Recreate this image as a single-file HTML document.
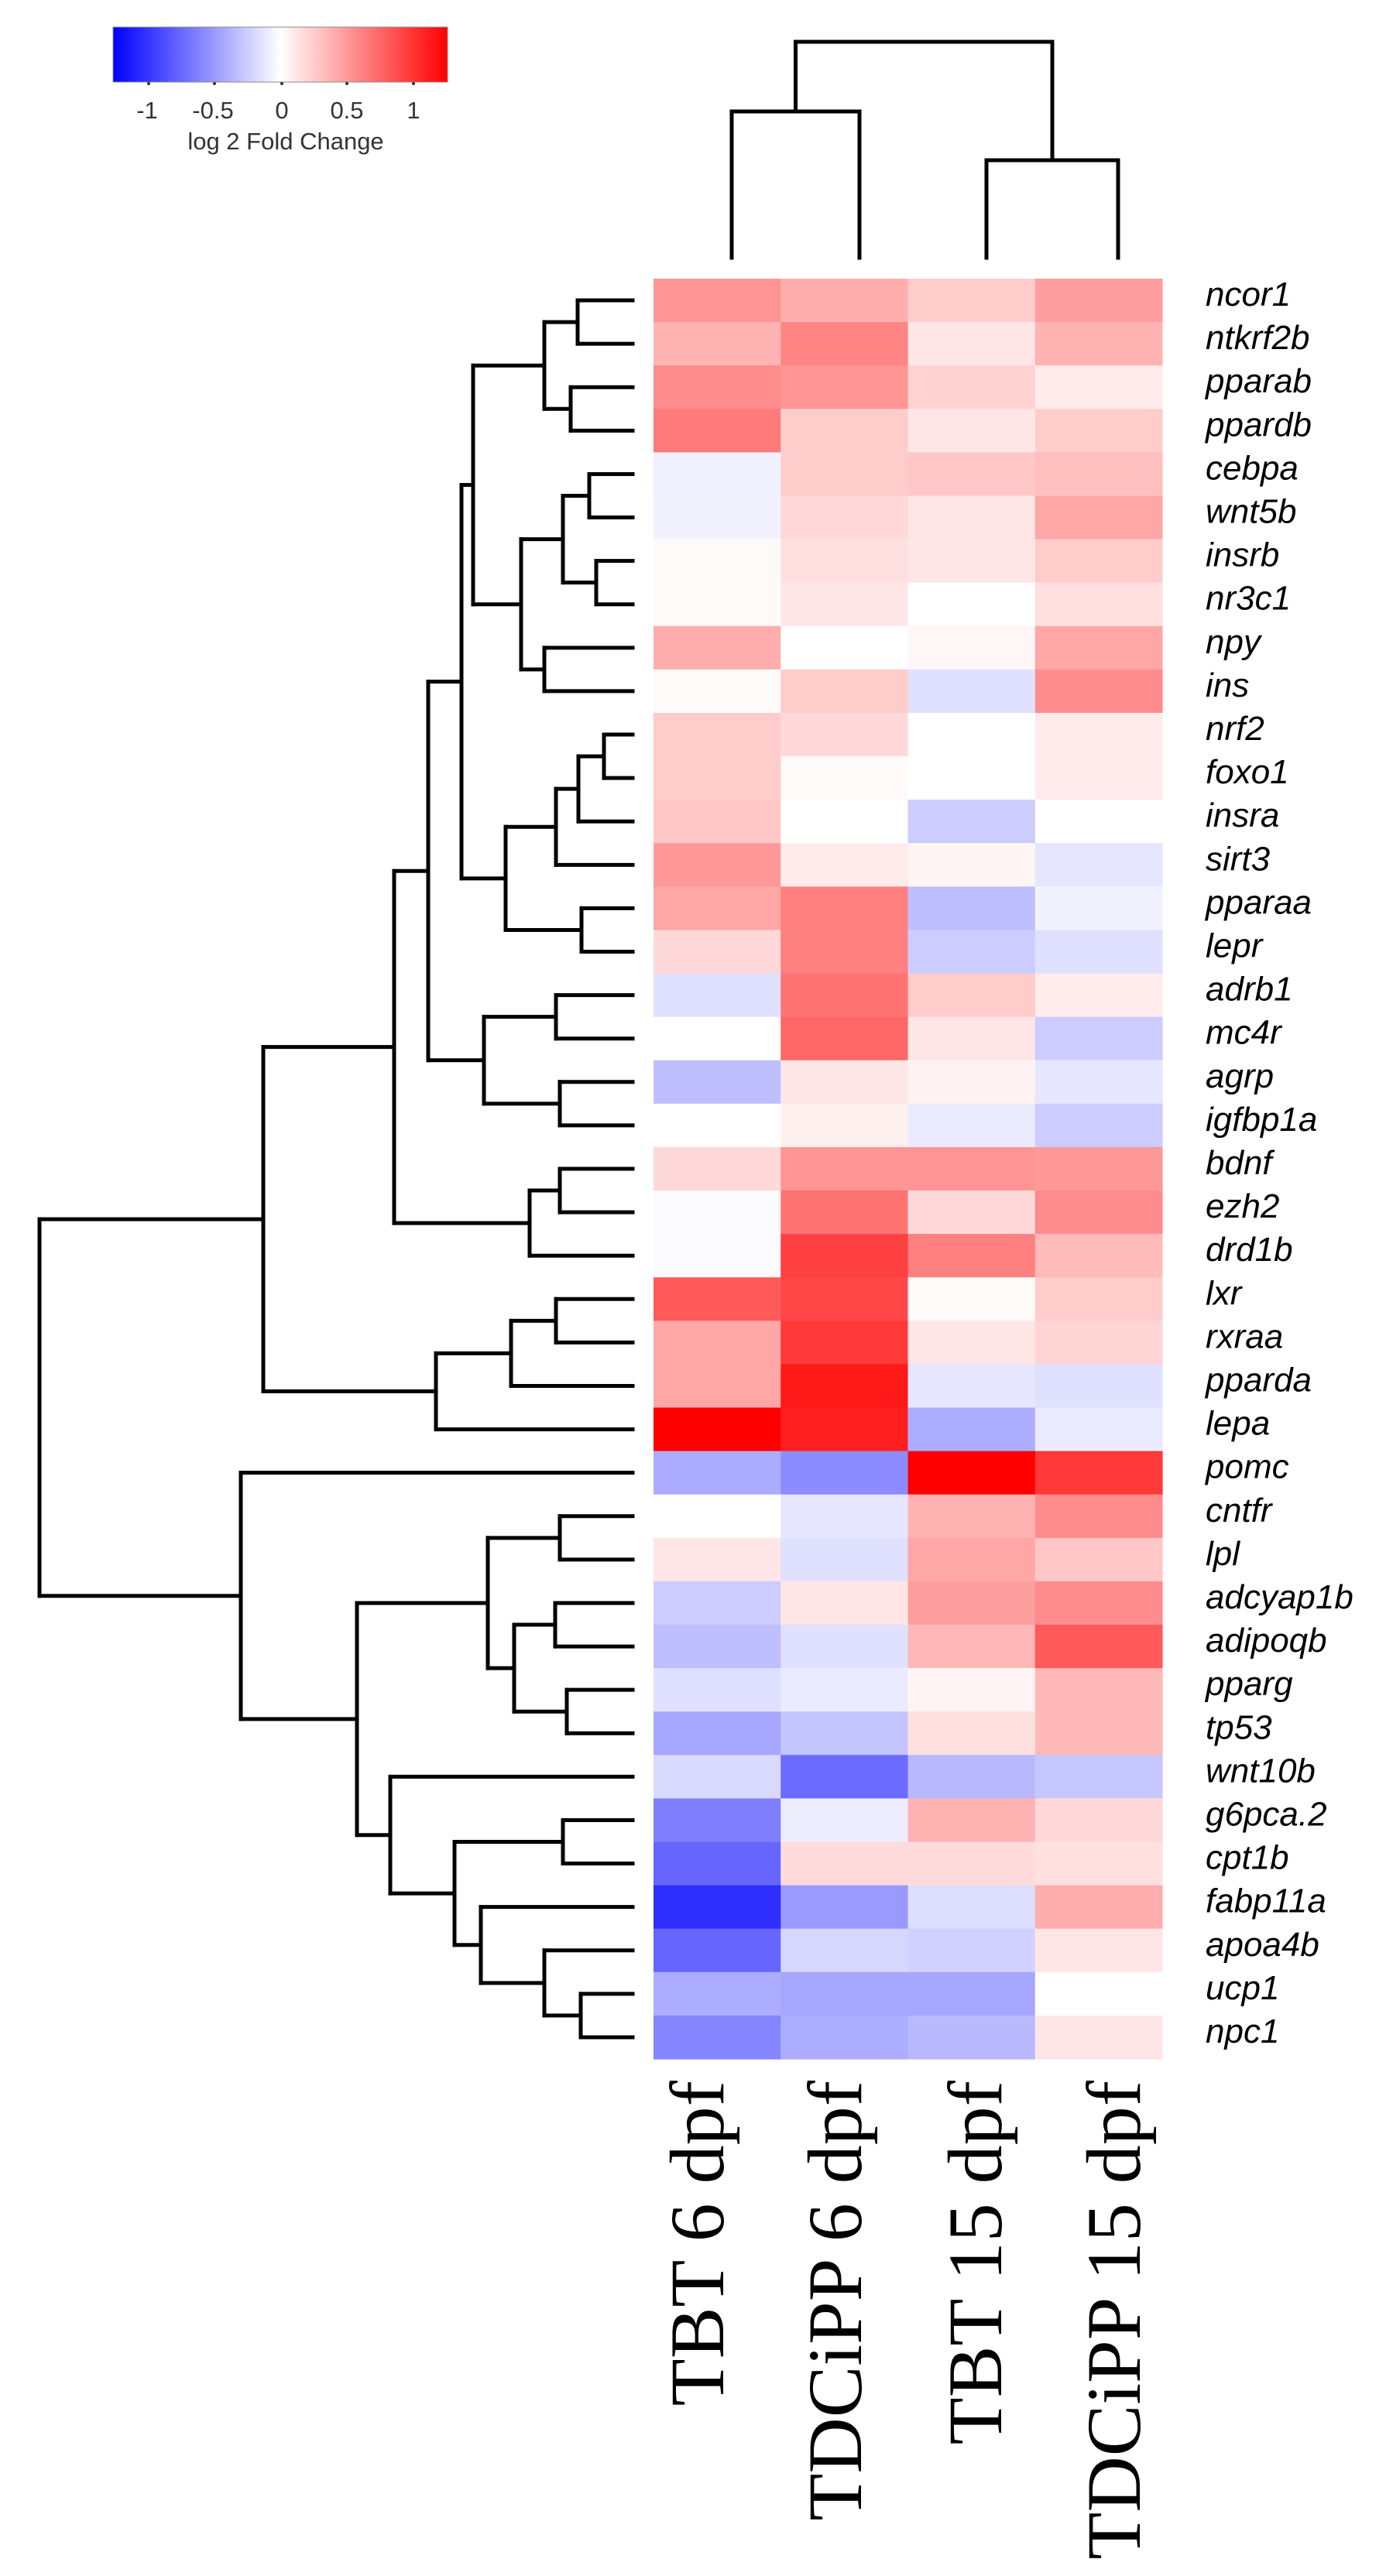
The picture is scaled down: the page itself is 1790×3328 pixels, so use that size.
<!DOCTYPE html>
<html><head><meta charset="utf-8"><style>
html,body{margin:0;padding:0;background:#fff;}
svg{display:block;}
</style></head><body>
<svg xmlns="http://www.w3.org/2000/svg" width="1790" height="3328" viewBox="0 0 1790 3328">
<defs>
<linearGradient id="cb" x1="0" x2="1" y1="0" y2="0">
<stop offset="0" stop-color="#0000ff"/>
<stop offset="0.5" stop-color="#ffffff"/>
<stop offset="1" stop-color="#ff0000"/>
</linearGradient>
</defs>
<rect x="0" y="0" width="1790" height="3328" fill="#fff"/>
<rect x="146" y="35" width="432" height="71" fill="url(#cb)" stroke="#888" stroke-width="1"/>
<g fill="#333">
<circle cx="192" cy="108" r="2"/><circle cx="277" cy="108" r="2"/><circle cx="364" cy="108" r="2"/><circle cx="448" cy="108" r="2"/><circle cx="534" cy="108" r="2"/>
</g>
<g font-family="Liberation Sans, sans-serif" font-size="31" fill="#333" text-anchor="middle">
<text x="190" y="153">-1</text><text x="275" y="153">-0.5</text><text x="364" y="153">0</text><text x="448" y="153">0.5</text><text x="534" y="153">1</text>
<text x="369" y="193">log 2 Fold Change</text>
</g>
<g id="heat"></g>
<g id="dend" stroke="#000" stroke-width="5" fill="none" stroke-linecap="square"></g>
<g id="labs" font-family="Liberation Sans, sans-serif" font-style="italic" font-size="44" fill="#000"></g>
<g font-family="Liberation Serif, serif" font-size="100" fill="#000" text-anchor="end">
<text transform="translate(934,2688) rotate(-90)">TBT 6 dpf</text>
<text transform="translate(1112,2688) rotate(-90)">TDCiPP 6 dpf</text>
<text transform="translate(1293,2688) rotate(-90)">TBT 15 dpf</text>
<text transform="translate(1472,2688) rotate(-90)">TDCiPP 15 dpf</text>
</g>
</svg>
<script>
(function(){
var names=["ncor1","ntkrf2b","pparab","ppardb","cebpa","wnt5b","insrb","nr3c1","npy","ins","nrf2","foxo1","insra","sirt3","pparaa","lepr","adrb1","mc4r","agrp","igfbp1a","bdnf","ezh2","drd1b","lxr","rxraa","pparda","lepa","pomc","cntfr","lpl","adcyap1b","adipoqb","pparg","tp53","wnt10b","g6pca.2","cpt1b","fabp11a","apoa4b","ucp1","npc1"];
var v=[[0.42,0.32,0.2,0.38],[0.3,0.48,0.1,0.3],[0.45,0.42,0.18,0.08],[0.52,0.2,0.1,0.2],[-0.06,0.2,0.22,0.25],[-0.05,0.15,0.1,0.35],[0.02,0.12,0.1,0.2],[0.02,0.1,0,0.12],[0.32,0,0.03,0.35],[0.02,0.2,-0.12,0.45],[0.2,0.15,0,0.08],[0.2,0.02,0,0.08],[0.22,0,-0.2,0],[0.4,0.08,0.04,-0.1],[0.35,0.5,-0.25,-0.05],[0.15,0.5,-0.2,-0.12],[-0.12,0.55,0.2,0.07],[0,0.6,0.1,-0.2],[-0.25,0.1,0.05,-0.1],[0,0.06,-0.08,-0.2],[0.15,0.42,0.42,0.4],[-0.02,0.55,0.15,0.45],[-0.02,0.75,0.5,0.27],[0.65,0.72,0.02,0.2],[0.35,0.78,0.1,0.17],[0.35,0.9,-0.1,-0.12],[1,0.88,-0.32,-0.08],[-0.33,-0.45,1,0.78],[0,-0.1,0.3,0.45],[0.1,-0.12,0.35,0.22],[-0.2,0.1,0.38,0.45],[-0.25,-0.12,0.28,0.65],[-0.12,-0.08,0.04,0.28],[-0.35,-0.23,0.12,0.28],[-0.15,-0.58,-0.28,-0.22],[-0.5,-0.07,0.3,0.15],[-0.6,0.14,0.14,0.12],[-0.82,-0.4,-0.13,0.32],[-0.6,-0.16,-0.18,0.1],[-0.32,-0.35,-0.35,0],[-0.48,-0.32,-0.28,0.1]];
var NS="http://www.w3.org/2000/svg";
var X0=844,W=164.25,Y0=360,H=2300/41;
var heat=document.getElementById("heat"),labs=document.getElementById("labs"),dend=document.getElementById("dend");
function col(t){var a=Math.round(255*(1-Math.min(1,Math.abs(t))));return t>=0?"rgb(255,"+a+","+a+")":"rgb("+a+","+a+",255)";}
for(var i=0;i<41;i++){for(var j=0;j<4;j++){var r=document.createElementNS(NS,"rect");r.setAttribute("x",X0+j*W);r.setAttribute("y",Y0+i*H);r.setAttribute("width",W+0.6);r.setAttribute("height",H+0.6);r.setAttribute("fill",col(v[i][j]));heat.appendChild(r);}
var t=document.createElementNS(NS,"text");t.setAttribute("x",1557);t.setAttribute("y",Y0+(i+0.5)*H+7);t.textContent=names[i];labs.appendChild(t);}
function line(x1,y1,x2,y2){var l=document.createElementNS(NS,"path");l.setAttribute("d","M"+x1+" "+y1+"L"+x2+" "+y2);dend.appendChild(l);}
function yc(i){return Y0+(i+0.5)*H;}
var LEAFX=817;
function draw(n){ if(typeof n==="number")return {x:LEAFX,y:yc(n)};
 var a=draw(n[0]),b=draw(n[1]),x=n[2];
 line(x,a.y,a.x,a.y);line(x,b.y,b.x,b.y);line(x,a.y,x,b.y);
 return {x:x,y:(a.y+b.y)/2};}
var A=[[0,1,746],[2,3,737],703];
var B=[[[4,5,761],[6,7,770],727],[8,9,703],673];
var C=[[[[10,11,780],12,747],13,718],[14,15,751],653];
var D=[[16,17,718],[18,19,723],625];
var E=[[20,21,723],22,684];
var F=[[[23,24,718],25,660],26,563];
var topTree=[[[[[A,B,611],C,596],D,553],E,509],F,340];
var H1=[[28,29,723],[[30,31,717],[32,33,732],664],630];
var H2=[34,[[35,36,727],[37,[38,[39,40,750],703],621],587],504];
var botTree=[27,[H1,H2,461],311];
draw([topTree,botTree,51]);
line(945,333,945,144);line(1110,333,1110,144);line(945,144,1110,144);
line(1274,333,1274,207);line(1444,333,1444,207);line(1274,207,1444,207);
line(1027.5,144,1027.5,54);line(1359,207,1359,54);line(1027.5,54,1359,54);
})();
</script>
</body></html>
